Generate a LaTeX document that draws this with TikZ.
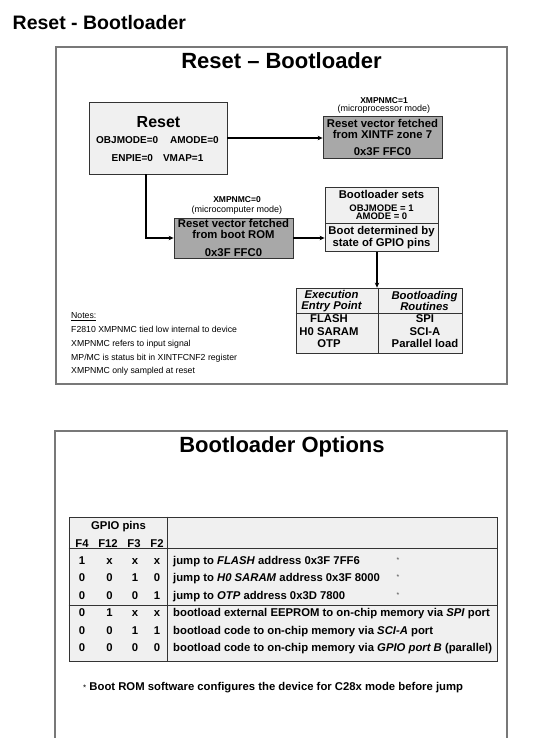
\documentclass[tikz,border=0pt]{standalone}
\usepackage{fontspec}
\setmainfont{Liberation Sans}
\usetikzlibrary{arrows.meta, positioning, calc}
\definecolor{framegray}{RGB}{120, 120, 120}
\definecolor{boxlight}{RGB}{240, 240, 240}
\definecolor{boxdark}{RGB}{168, 168, 168}
\newcommand{\fsz}[2]{\fontsize{#1}{#2}\selectfont}

\begin{document}
\begin{tikzpicture}[x=1pt, y=-1pt,
  slideframe/.style={draw=framegray, line width=1.6pt},
  lbox/.style={draw=black!80, fill=boxlight, line width=0.8pt, inner sep=0pt, align=center, font=\bfseries\fsz{11.3}{10.5}},
  dbox/.style={lbox, fill=boxdark},
  txt/.style={inner sep=0pt, font=\bfseries\fsz{11.3}{11}},
  small/.style={inner sep=0pt, font=\fsz{9}{9}},
  tablerule/.style={draw=black!80, line width=0.8pt},
  conn/.style={line width=1.8pt, -{Stealth[length=5pt, width=4.5pt]}}
]
  \fill[white] (0,0) rectangle (550,738);
  \useasboundingbox (0,0) rectangle (550,738);

  % slide frames
  \draw[slideframe] (56,384) rectangle (507,47);
  \draw[slideframe] (55,738) -- (55,431) -- (507,431) -- (507,738);

  \node[txt, font=\bfseries\fsz{19.5}{20}, anchor=base west] (pagetitle) at (12.5,30) {Reset - Bootloader};
  \node[txt, font=\bfseries\fsz{22}{22}, anchor=base] (resettitle) at (281.5,68.3) {Reset -- Bootloader};

  % reset box
  \node[lbox, minimum width=138pt, minimum height=72pt] (reset) at (158,138) {};
  \node[txt, font=\bfseries\fsz{16}{16}, anchor=base] (resethead) at (158.5,128) {Reset};
  \node[txt, font=\bfseries\fsz{10}{10}, anchor=base] (resetflagsa) at (157.5,144) {OBJMODE=0\hspace{12pt}AMODE=0};
  \node[txt, font=\bfseries\fsz{10}{10}, anchor=base] (resetflagsb) at (157.5,161.5) {ENPIE=0\hspace{10pt}VMAP=1};

  % microprocessor mode
  \node[txt, font=\bfseries\fsz{8.5}{8.5}, anchor=base] (mpmode) at (384,104) {XMPNMC=1};
  \node[small, anchor=base] (mpmodetxt) at (384,112) {(microprocessor mode)};
  \node[dbox, minimum width=119pt, minimum height=42pt, font=\bfseries\fsz{11.3}{11}] (romxintf) at (382.5,137) {Reset vector fetched\\from XINTF zone 7\\[6pt]0x3F FFC0};

  % microcomputer mode
  \node[txt, font=\bfseries\fsz{8.5}{8.5}, anchor=base] (mcmode) at (237,202.3) {XMPNMC=0};
  \node[small, anchor=base] (mcmodetxt) at (237,212.5) {(microcomputer mode)};
  \node[dbox, minimum width=119pt, minimum height=40pt] (romboot) at (233.5,238) {Reset vector fetched\\from boot ROM\\[7.5pt]0x3F FFC0};

  % bootloader
  \node[lbox, minimum width=113pt, minimum height=36pt] (blsets) at (381.5,205) {};
  \node[txt, anchor=base] (blsetshead) at (381.5,198) {Bootloader sets};
  \node[txt, font=\bfseries\fsz{9.5}{9.5}, anchor=base] (blobjmode) at (381.5,211) {OBJMODE = 1};
  \node[txt, font=\bfseries\fsz{9.5}{9.5}, anchor=base] (blamode) at (381.5,219.5) {AMODE = 0};
  \node[lbox, minimum width=113pt, minimum height=28pt, anchor=north, font=\bfseries\fsz{11.3}{10}] (bootgpio) at (blsets.south) {Boot determined by\\state of GPIO pins};

  % entry point table
  \node[lbox, minimum width=166pt, minimum height=65pt] (entry) at (379,320.5) {};
  \draw[tablerule] ([xshift=-1pt]entry.north) -- ([xshift=-1pt]entry.south);
  \draw[tablerule] ([yshift=-26pt]entry.north west) -- ([yshift=-26pt]entry.north east);
  \node[txt, font=\bfseries\itshape\fsz{11.3}{11}, align=center] (exechead) at (331.5,301.3) {Execution\\Entry Point};
  \node[txt, font=\bfseries\itshape\fsz{11.3}{11}, align=center] (boothead) at (424.5,300.5) {Bootloading\\Routines};
  \node[txt, font=\bfseries\fsz{11.3}{12.5}, align=center] (execlist) at (329,331.5) {FLASH\\H0 SARAM\\OTP};
  \node[txt, font=\bfseries\fsz{11.3}{12.5}, align=center] (bootlist) at (425,331.5) {SPI\\SCI-A\\Parallel load};

  \node[anchor=north west, inner sep=0pt, align=left, font=\fsz{8.7}{13.7}] (notes) at (71,312.8) {\underline{Notes:}\\F2810 XMPNMC tied low internal to device\\XMPNMC refers to input signal\\MP/MC is status bit in XINTFCNF2 register\\XMPNMC only sampled at reset};

  \draw[conn] (reset.east) -- (reset.east -| romxintf.west);
  \draw[conn] ([xshift=-12pt]reset.south) |- (romboot.west);
  \draw[conn] (romboot.east) -- (romboot.east -| bootgpio.west);
  \draw[conn] ([xshift=-4.5pt]bootgpio.south) -- ([xshift=-4.5pt]bootgpio.south |- entry.north);

  % bootloader options
  \node[txt, font=\bfseries\fsz{22}{22}, anchor=base] (optstitle) at (282,452) {Bootloader Options};
  \node[lbox, minimum width=428pt, minimum height=144pt] (bootopts) at (283,589) {};
  \draw[tablerule] ([xshift=99pt]bootopts.north west) -- ([xshift=99pt]bootopts.south west);
  \draw[tablerule] ([yshift=-32pt]bootopts.north west) -- ([yshift=-32pt]bootopts.north east);
  \draw[tablerule] ([yshift=-89pt]bootopts.north west) -- ([yshift=-89pt]bootopts.north east);
  \node[txt, anchor=base] (gpiohead) at (118.5,529) {GPIO pins};
  \foreach \x/\pin in {82/F4, 108/F12, 134/F3, 157/F2}
    \node[txt, anchor=base] (pin\pin) at (\x,547.5) {\pin};
  \foreach \y/\a/\b/\c/\d/\act [count=\i] in {
      564/1/x/x/x/{jump to \textit{FLASH} address 0x3F 7FF6},
      581.5/0/0/1/0/{jump to \textit{H0 SARAM} address 0x3F 8000},
      599/0/0/0/1/{jump to \textit{OTP} address 0x3D 7800},
      616.5/0/1/x/x/{bootload external EEPROM to on-chip memory via \textit{SPI} port},
      634/0/0/1/1/{bootload code to on-chip memory via \textit{SCI-A} port},
      651.5/0/0/0/0/{bootload code to on-chip memory via \textit{GPIO port B} (parallel)}} {
    \node[txt, anchor=base] (pa\i) at (82,\y) {\a};
    \node[txt, anchor=base] (pb\i) at (109.5,\y) {\b};
    \node[txt, anchor=base] (pc\i) at (135,\y) {\c};
    \node[txt, anchor=base] (pd\i) at (157,\y) {\d};
    \node[txt, anchor=base west] (act\i) at (173,\y) {\act};
  }
  \foreach \y [count=\i] in {562, 579.5, 597}
    \node[txt, font=\fsz{7}{7}, text=black!70, anchor=base] (star\i) at (398,\y) {*};

  \node[txt, anchor=base west] (footnote) at (83,690.5) {{\mdseries\fsz{8}{8}*} Boot ROM software configures the device for C28x mode before jump};
\end{tikzpicture}
\end{document}
